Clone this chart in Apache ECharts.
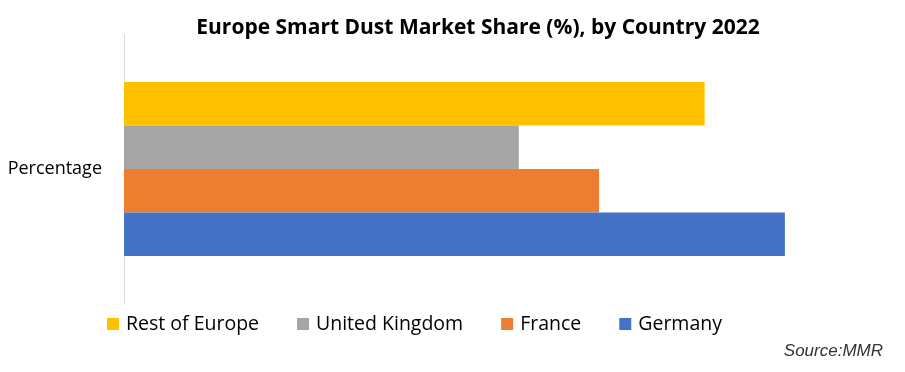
<!DOCTYPE html>
<html>
<head>
<meta charset="utf-8">
<script src="https://cdn.jsdelivr.net/npm/echarts@6/dist/echarts.min.js"></script>
<style>html,body{margin:0;padding:0;background:#fff;}#chart{width:905px;height:372px;}</style>
</head>
<body>
<div id="chart"></div>
<script>
const categories = ['Percentage'];
const seriesNames = ['Rest of Europe', 'United Kingdom', 'France', 'Germany'];
const restOfEurope = [27.5];
const unitedKingdom = [18.7];
const france = [22.5];
const germany = [31.3];
const legendOrder = ['Rest of Europe', 'United Kingdom', 'France', 'Germany'];
const colors = ['#FFC000', '#A5A5A5', '#ED7D31', '#4472C4'];
const values = [restOfEurope, unitedKingdom, france, germany];

const chart = echarts.init(document.getElementById('chart'));
chart.setOption({
  animation: false,
  title: {
    text: 'Europe Smart Dust Market Share (%), by Country 2022',
    left: 473, top: 13, textAlign: 'center',
    textStyle: { fontFamily: 'Open Sans', fontWeight: 'bold', fontSize: 21, color: '#000' }
  },
  legend: {
    data: legendOrder,
    left: 107, top: 314, padding: 0,
    itemWidth: 12, itemHeight: 12, itemGap: 38,
    icon: 'rect',
    textStyle: { fontFamily: 'Open Sans', fontSize: 19.5, color: '#000', padding: [0, 0, 0, 2] }
  },
  grid: { left: 124, right: 42, top: 35, bottom: 69 },
  xAxis: {
    type: 'value', min: 0, max: 35,
    axisLabel: { show: false }, splitLine: { show: false },
    axisLine: { show: false }, axisTick: { show: false }
  },
  yAxis: {
    type: 'category', data: categories,
    axisLine: { show: true, lineStyle: { color: '#d9d9d9' } },
    axisTick: { show: false },
    axisLabel: { margin: 22, fontFamily: 'Open Sans', fontSize: 18, color: '#000' }
  },
  series: seriesNames.map((n, i) => ({
    name: n, type: 'bar', data: values[i],
    itemStyle: { color: colors[i] },
    barGap: '0%', barCategoryGap: '35%'
  })),
  graphic: [{
    type: 'text', right: 22, top: 343,
    style: { text: 'Source:MMR', fontFamily: 'Liberation Sans', fontStyle: 'italic', fontSize: 17, fill: '#333' }
  }]
});
</script>
</body>
</html>
